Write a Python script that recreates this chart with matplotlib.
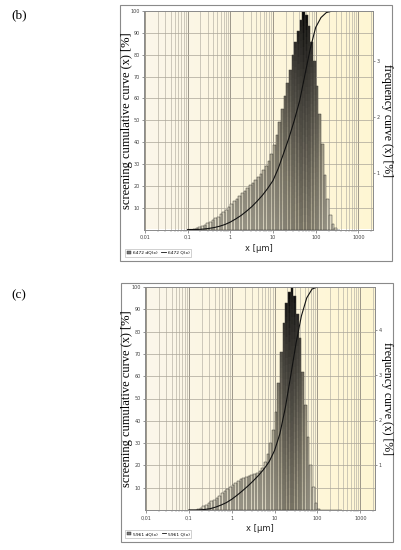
import numpy as np
import matplotlib
matplotlib.use('Agg')
import matplotlib.pyplot as plt
from matplotlib.colors import LinearSegmentedColormap
from matplotlib.patches import Rectangle, Patch
from matplotlib.lines import Line2D
from matplotlib.ticker import LogLocator, NullFormatter

# size classes [µm] (bin edges)
edges = [0.100, 0.115, 0.133, 0.154, 0.178, 0.205, 0.237, 0.274, 0.316, 0.365,
         0.422, 0.487, 0.562, 0.649, 0.750, 0.866, 1.00, 1.15, 1.33, 1.54,
         1.78, 2.05, 2.37, 2.74, 3.16, 3.65, 4.22, 4.87, 5.62, 6.49,
         7.50, 8.66, 10.0, 11.5, 13.3, 15.4, 17.8, 20.5, 23.7, 27.4,
         31.6, 36.5, 42.2, 48.7, 56.2, 64.9, 75.0, 86.6, 100, 115,
         133, 154, 178, 205, 237, 274, 316, 365]

# frequency curve [%] per class
freq_b = [0, 0, 0.01, 0.02, 0.04, 0.06, 0.08, 0.11, 0.14, 0.17,
          0.20, 0.23, 0.27, 0.31, 0.35, 0.40, 0.45, 0.50, 0.55, 0.60,
          0.65, 0.69, 0.74, 0.79, 0.83, 0.89, 0.94, 0.99, 1.06, 1.14,
          1.23, 1.35, 1.50, 1.68, 1.91, 2.15, 2.38, 2.61, 2.85, 3.12,
          3.35, 3.55, 3.74, 3.90, 3.82, 3.63, 3.35, 3.00, 2.57, 2.07,
          1.52, 0.98, 0.55, 0.25, 0.10, 0.03, 0]
freq_c = [0, 0, 0.01, 0.02, 0.05, 0.08, 0.11, 0.15, 0.19, 0.23,
          0.27, 0.32, 0.37, 0.42, 0.47, 0.51, 0.56, 0.60, 0.64, 0.68,
          0.71, 0.73, 0.75, 0.77, 0.79, 0.82, 0.87, 0.94, 1.06, 1.24,
          1.49, 1.78, 2.18, 2.82, 3.51, 4.16, 4.60, 4.85, 4.95, 4.75,
          4.36, 3.81, 3.07, 2.33, 1.63, 0.99, 0.50, 0.15, 0.02, 0,
          0, 0, 0, 0, 0, 0, 0]

# screening cumulative curve [%]
q_sizes = [0.100, 0.133, 0.178, 0.237, 0.316, 0.422, 0.562, 0.750, 1.00, 1.33,
           1.78, 2.37, 3.16, 4.22, 5.62, 7.50, 10.0, 13.3, 17.8, 23.7,
           31.6, 42.2, 56.2, 75.0, 100, 133, 178, 237, 316]
q_b = [0, 0, 0.05, 0.2, 0.5, 0.9, 1.5, 2.3, 3.4, 4.8,
       6.4, 8.3, 10.4, 12.9, 15.6, 18.8, 22.4, 28, 35, 42,
       50, 59, 71, 83, 92.5, 97, 99.3, 99.9, 100]
q_c = [0, 0, 0.05, 0.25, 0.6, 1.3, 2.2, 3.3, 4.8, 6.6,
       8.6, 10.7, 13.0, 15.5, 18.3, 21.7, 26.7, 34.2, 45.8, 60.0,
       74.7, 87.0, 95.1, 99.1, 100]

xtick_vals = [0.01, 0.1, 1, 10, 100, 1000]
xtick_text = ['0,01', '0,1', '1', '10', '100', '1000']

W, H = 401, 550
fig = plt.figure(figsize=(W / 100, H / 100), dpi=100)

shade = LinearSegmentedColormap.from_list(
    'shade', [(0, '#E4DFCC'), (0.4, '#A49E89'), (0.75, '#4A4740'), (1, '#050505')])
bg = LinearSegmentedColormap.from_list('bg', ['#FBF6EA', '#FFF7D3'])
serif = 'Liberation Serif'


def rect(x0, y0, x1, y1):
    # pixel box -> figure fraction
    return [x0 / W, 1 - y1 / H, (x1 - x0) / W, (y1 - y0) / H]


def panel(box, plot, tag, tag_y, freq, q, fmax, fticks, sid):
    b = rect(*box)
    fig.add_artist(Rectangle((b[0], b[1]), b[2], b[3], transform=fig.transFigure,
                             fill=False, ec='#8a8a8a', lw=0.8))
    fig.text(19 / W, 1 - tag_y / H, tag, family=serif, fontsize=9.5,
             ha='center', va='center')

    axf = fig.add_axes(rect(*plot))
    axq = axf.twinx()
    axf.yaxis.tick_right()
    axq.yaxis.tick_left()
    axq.set_zorder(axf.get_zorder() + 1)
    axf.patch.set_visible(False)
    axq.patch.set_visible(False)
    axf.set_xscale('log')

    axf.imshow(np.linspace(0, 1, 256)[None, :], extent=(0, 1, 0, 1),
               transform=axf.transAxes, cmap=bg, aspect='auto', zorder=0)

    # histogram bars with vertical shading
    for i, f in enumerate(freq):
        if f <= 0:
            continue
        y = np.linspace(0, f, 31)
        ym = (y[:-1] + y[1:]) / 2
        t = 0.4 * f / fmax + 0.6 * ym / fmax
        axf.pcolormesh([edges[i], edges[i + 1]], y, t[:, None], cmap=shade,
                       vmin=0, vmax=1, shading='flat', zorder=2,
                       antialiased=False, edgecolors='none')
    axf.bar(edges[:-1], freq, width=np.diff(edges), align='edge', fill=False,
            edgecolor='#3c3a34', lw=0.35, zorder=3)

    for k in range(1, 10):
        axf.axhline(k / 10 * fmax, color='#aaa598', lw=0.5, zorder=1)

    axq.plot(q_sizes[:len(q)], q, color='#111111', lw=0.8)

    axf.set_xlim(0.0095, 2200)
    axf.set_ylim(0, fmax)
    axq.set_ylim(0, 100)

    axf.xaxis.set_minor_locator(LogLocator(10, subs=np.arange(2, 10), numticks=30))
    axf.xaxis.set_minor_formatter(NullFormatter())
    axf.set_xticks(xtick_vals, xtick_text)
    axf.grid(axis='x', which='major', color='#8d887c', lw=0.6, zorder=1)
    axf.grid(axis='x', which='minor', color='#b9b4a8', lw=0.5, zorder=1)
    axf.set_axisbelow(True)
    axf.tick_params(axis='x', which='major', labelsize=3.5, length=2, width=0.4,
                    pad=2, colors='#444444')
    axf.tick_params(axis='x', which='minor', length=1.2, width=0.3, colors='#666666')
    axf.set_yticks(fticks)
    axf.tick_params(axis='y', labelsize=3.5, length=1.5, width=0.4, pad=1,
                    colors='#444444')
    axq.set_yticks(range(10, 101, 10))
    axq.tick_params(axis='y', labelsize=3.5, length=1.5, width=0.4, pad=1.5,
                    colors='#444444')
    for ax in (axf, axq):
        for s in ax.spines.values():
            s.set_color('#8a8a8a')
            s.set_linewidth(0.6)

    axf.set_xlabel('x [µm]', fontsize=6, labelpad=2.5, color='#222222')
    ymid = 1 - (plot[1] + plot[3]) / 2 / H
    fig.text(127 / W, ymid, 'screening cumulative curve (x) [%]', family=serif,
             fontsize=9, rotation=90, ha='center', va='center')
    fig.text(387 / W, ymid, 'frequency curve (x) [%]', family=serif,
             fontsize=8.5, rotation=270, ha='center', va='center')

    leg = fig.legend(handles=[Patch(fc='#777777', ec='#222222', lw=0.3),
                              Line2D([], [], color='#111111', lw=0.6)],
                     labels=[sid + ' dQ(x)', sid + ' Q(x)'], loc='lower left',
                     bbox_to_anchor=(123 / W, 1 - (box[3] - 2) / H), ncol=2,
                     fontsize=3.2, frameon=True, fancybox=False, edgecolor='#999999',
                     borderpad=0.4, handlelength=1.0, handleheight=0.8,
                     columnspacing=0.8, handletextpad=0.4)
    leg.get_frame().set_linewidth(0.4)


panel((120, 5, 392, 261), (144, 11, 373, 229.5), '(b)', 15, freq_b, q_b, 3.9,
      [1, 2, 3], '6472')
panel((121, 283, 393, 542), (145, 287, 375, 510), '(c)', 295, freq_c, q_c, 4.95,
      [1, 2, 3, 4], '5961')

fig.savefig('out.png', dpi=100, facecolor='white')
